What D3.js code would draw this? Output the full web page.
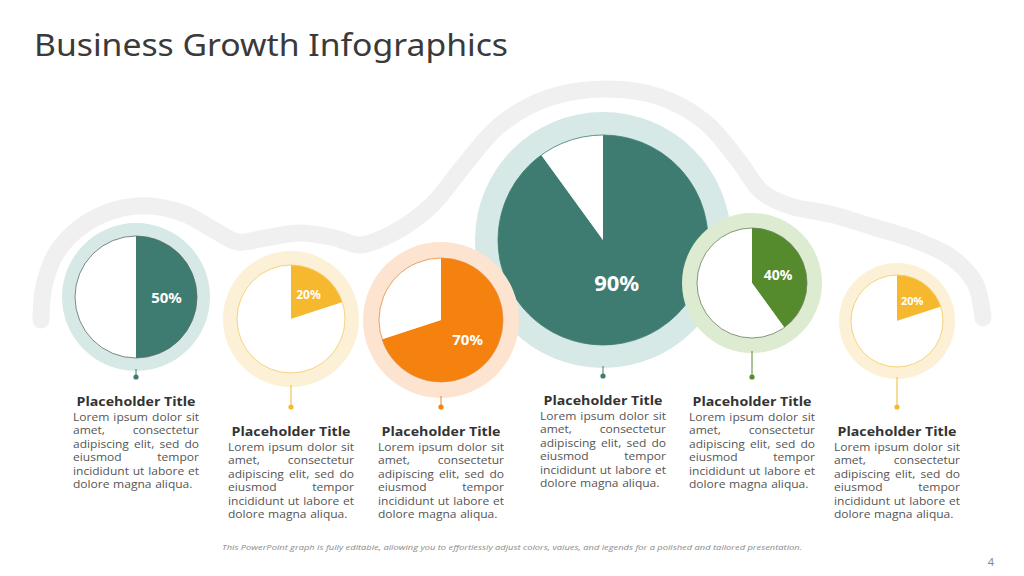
<!DOCTYPE html>
<html>
<head>
<meta charset="utf-8">
<script src="https://cdn.jsdelivr.net/npm/d3@7"></script>
<style>
  html, body { margin: 0; padding: 0; background: #ffffff; }
  svg { display: block; }
</style>
</head>
<body>
<svg id="chart" width="1024" height="576"></svg>
<script>
// ---------------- data ----------------
const categories = ["Placeholder Title", "Placeholder Title", "Placeholder Title",
                    "Placeholder Title", "Placeholder Title", "Placeholder Title"];
const values = [50, 20, 70, 90, 40, 20];
const valueLabels = ["50%", "20%", "70%", "90%", "40%", "20%"];
const bodyLines = ["Lorem ipsum dolor sit", "amet, consectetur", "adipiscing elit, sed do",
                   "eiusmod tempor", "incididunt ut labore et", "dolore magna aliqua."];
const titleText = "Business Growth Infographics";
const footerText = "This PowerPoint graph is fully editable, allowing you to effortlessly adjust colors, values, and legends for a polished and tailored presentation.";
const pageNumber = "4";

// ---------------- layout & style ----------------
const layout = [
  { cx: 136, cy: 297, r: 61,  halo: 74,  pin: 377, fs: 15 },
  { cx: 291, cy: 319, r: 54,  halo: 68,  pin: 407, fs: 12 },
  { cx: 441, cy: 320, r: 62,  halo: 78,  pin: 407, fs: 15 },
  { cx: 603, cy: 240, r: 105, halo: 128, pin: 376, fs: 22 },
  { cx: 752, cy: 283, r: 55,  halo: 70,  pin: 377, fs: 14 },
  { cx: 897, cy: 321, r: 46,  halo: 58,  pin: 407, fs: 11 }
];
const colors = ["#3e7c71", "#f6b82f", "#f5820f", "#3e7c71", "#568b2d", "#f6b82f"];
const haloColors = ["#d6e9e6", "#fcf0d6", "#fde4d0", "#d6e9e6", "#ddecd1", "#fcf0d6"];
const outlineColors = ["#5e6b68", "#f2c95e", "#e58a3a", "#3e7c71", "#6a7d62", "#f2c95e"];
const labelFactor = [0.5, 0.55, 0.53, 0.42, 0.5, 0.56];
const bandColor = "#f0f0f0";
const bodyFont = "'Open Sans', 'Noto Sans', sans-serif";

const svg = d3.select("#chart");

// ---------------- background band ----------------
const bandPts = [
  [41, 320], [44, 286], [57, 252], [82, 226], [115, 210], [150, 206], [185, 214],
  [214, 230], [238, 242], [265, 238], [300, 233], [335, 238], [360, 245],
  [395, 232], [432, 205], [462, 168], [500, 125], [548, 98], [605, 89],
  [660, 97], [705, 122], [738, 160], [762, 192], [790, 206], [830, 214],
  [870, 226], [915, 240], [952, 258], [975, 283], [983, 318]
];
svg.append("path")
  .attr("d", d3.line().curve(d3.curveCatmullRom.alpha(0.5))(bandPts))
  .attr("fill", "none")
  .attr("stroke", bandColor)
  .attr("stroke-width", 17)
  .attr("stroke-linecap", "round");

// ---------------- title ----------------
svg.append("text")
  .attr("x", 34).attr("y", 56)
  .attr("font-family", "'Noto Sans', 'DejaVu Sans', sans-serif")
  .attr("font-size", 30)
  .attr("fill", "#3a3a3a")
  .attr("textLength", 474)
  .attr("lengthAdjust", "spacingAndGlyphs")
  .text(titleText);

// ---------------- pies ----------------
const pie = d3.pie().sort(null).value(d => d);
const order = [3, 0, 1, 2, 4, 5];
const gPins = svg.append("g");
const gPies = svg.append("g");

order.forEach(i => {
  const L = layout[i];
  const g = gPies.append("g").attr("transform", `translate(${L.cx},${L.cy})`);
  g.append("circle").attr("r", L.halo).attr("fill", haloColors[i]);
  const arcs = pie([values[i], 100 - values[i]]);
  const arc = d3.arc().innerRadius(0).outerRadius(L.r);
  g.selectAll("path.slice").data(arcs).join("path")
    .attr("class", "slice")
    .attr("d", arc)
    .attr("fill", (d, k) => k === 0 ? colors[i] : "#ffffff");
  g.append("circle").attr("r", L.r).attr("fill", "none")
    .attr("stroke", outlineColors[i]).attr("stroke-width", 0.8);
  const lblArc = d3.arc().innerRadius(0).outerRadius(L.r * labelFactor[i] * 2);
  const c = lblArc.centroid(arcs[0]);
  g.append("text")
    .attr("x", c[0]).attr("y", c[1])
    .attr("text-anchor", "middle")
    .attr("dominant-baseline", "central")
    .attr("font-family", "'Noto Sans', 'DejaVu Sans', sans-serif")
    .attr("font-weight", 700)
    .attr("font-size", L.fs)
    .attr("fill", "#ffffff")
    .text(valueLabels[i]);

  gPins.append("line")
    .attr("x1", L.cx).attr("x2", L.cx)
    .attr("y1", L.cy + L.halo - 2).attr("y2", L.pin)
    .attr("stroke", colors[i]).attr("stroke-width", 1);
  gPins.append("circle")
    .attr("cx", L.cx).attr("cy", L.pin).attr("r", 2.6)
    .attr("fill", colors[i]);
});
gPins.raise();

// ---------------- text blocks ----------------
const colW = 126;
const lineH = 13.4;
const bodySize = 10.4;
const gText = svg.append("g");

// glyph stretch so the widest natural line fills the column (wide geometric look)
const probe = svg.append("text").attr("font-family", bodyFont).attr("font-size", bodySize);
const natW = bodyLines.slice(0, 5).map(t => { probe.text(t); return probe.node().getComputedTextLength(); });
probe.remove();
const stretch = 124 / d3.max(natW);

categories.forEach((cat, i) => {
  const L = layout[i];
  const ty = L.pin + 29;
  gText.append("text")
    .attr("x", L.cx).attr("y", ty)
    .attr("text-anchor", "middle")
    .attr("font-family", bodyFont)
    .attr("font-weight", 700)
    .attr("font-size", 13.2)
    .attr("fill", "#333333")
    .attr("textLength", 119)
    .attr("lengthAdjust", "spacingAndGlyphs")
    .text(cat);
  const x0 = L.cx - colW / 2;
  bodyLines.forEach((line, li) => {
    const y = ty + 15 + li * lineH;
    const words = line.split(" ");
    const last = li === bodyLines.length - 1;
    const tg = gText.append("g");
    const nodes = words.map(w => tg.append("text")
      .attr("y", y)
      .attr("font-family", bodyFont)
      .attr("font-size", bodySize)
      .attr("fill", "#555555")
      .text(w));
    const widths = nodes.map(n => n.node().getComputedTextLength() * stretch);
    nodes.forEach((n, k) => n.attr("textLength", widths[k]).attr("lengthAdjust", "spacingAndGlyphs"));
    const total = d3.sum(widths);
    const space = bodySize * 0.3 * stretch;
    const gap = last || words.length < 2 ? space : (colW - total) / (words.length - 1);
    let x = x0;
    nodes.forEach((n, k) => { n.attr("x", x); x += widths[k] + gap; });
  });
});

// ---------------- footer ----------------
svg.append("text")
  .attr("x", 512).attr("y", 550)
  .attr("text-anchor", "middle")
  .attr("font-family", "'Open Sans', 'Noto Sans', sans-serif")
  .attr("font-style", "italic")
  .attr("font-size", 7.4)
  .attr("fill", "#8a8a8a")
  .attr("textLength", 580)
  .attr("lengthAdjust", "spacingAndGlyphs")
  .text(footerText);

svg.append("text")
  .attr("x", 991).attr("y", 566)
  .attr("text-anchor", "middle")
  .attr("font-family", "'Noto Sans', 'DejaVu Sans', sans-serif")
  .attr("font-size", 11)
  .attr("fill", "#888888")
  .text(pageNumber);
</script>
</body>
</html>
